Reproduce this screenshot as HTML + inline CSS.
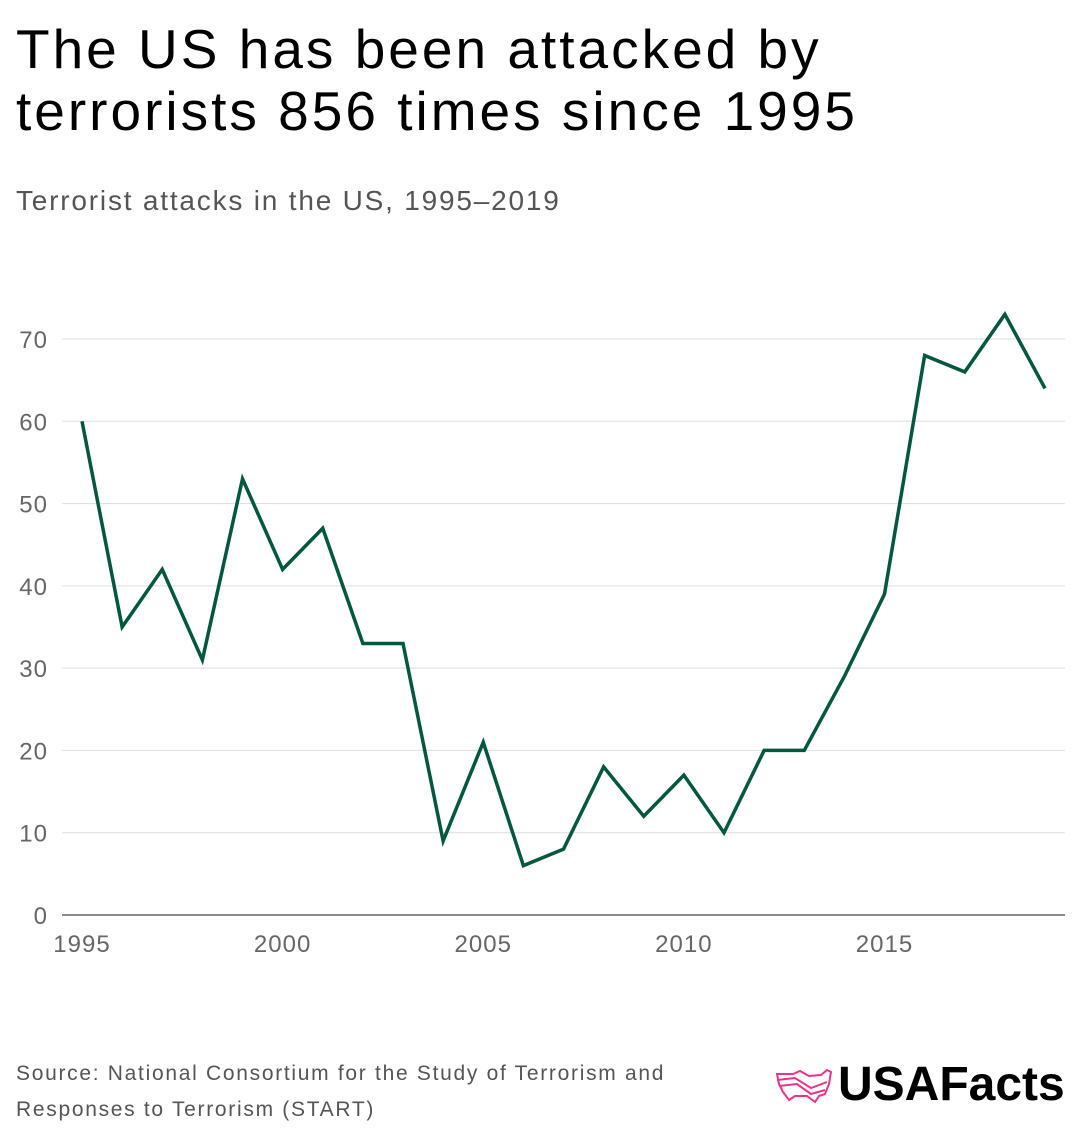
<!DOCTYPE html>
<html><head><meta charset="utf-8"><style>
body{margin:0;width:1080px;height:1142px;background:#fff;font-family:"Liberation Sans",sans-serif;position:relative;overflow:hidden}
h1{position:absolute;left:16px;top:18px;margin:0;font-size:55px;line-height:62px;font-weight:normal;color:#000;letter-spacing:3px;white-space:nowrap}
.sub{position:absolute;left:16px;top:185px;font-size:28px;color:#555;letter-spacing:1.8px;white-space:nowrap}
.src{position:absolute;left:16px;top:1056px;font-size:21px;line-height:36px;color:#555;letter-spacing:1.7px;white-space:nowrap}
svg{position:absolute;left:0;top:0}
</style></head><body>
<h1>The US has been attacked by<br>terrorists 856 times since 1995</h1>
<div class="sub">Terrorist attacks in the US, 1995–2019</div>
<svg id="chart" width="1080" height="1142"></svg>
<div class="src">Source: National Consortium for the Study of Terrorism and<br>Responses to Terrorism (START)</div>
<div style="position:absolute;left:775px;top:1066px;">
<svg width="60" height="40" viewBox="0 0 60 40"><path d="M2 8 L18 8 L25 5 L34 10 L46 9 L52 4 L56 6 L54 18 L50 28 L44 30 L40 36 L32 30 L20 30 L14 34 L8 26 L4 18 Z M2 14 L20 12 L36 22 L52 16 M4 20 L22 18 L36 28 L50 24" fill="none" stroke="#e8348a" stroke-width="2"/></svg>
<span style="position:absolute;left:63px;top:-9px;font-size:48px;font-weight:bold;letter-spacing:0px;color:#000;white-space:nowrap">USAFacts</span>
</div>
<script>
const years=[1995,1996,1997,1998,1999,2000,2001,2002,2003,2004,2005,2006,2007,2008,2009,2010,2011,2012,2013,2014,2015,2016,2017,2018,2019];
const attacks=[60,35,42,31,53,42,47,33,33,9,21,6,8,18,12,17,10,20,20,29,39,68,66,73,64];
const yTicks=[0,10,20,30,40,50,60,70];
const xTicks=[1995,2000,2005,2010,2015];
const NS="http://www.w3.org/2000/svg";
const svg=document.getElementById('chart');
const x=v=>82+(v-1995)*(1045-82)/24;
const y=v=>915-v*(915-339)/70;
function mk(t,a){const e=document.createElementNS(NS,t);for(const k in a)e.setAttribute(k,a[k]);svg.appendChild(e);return e;}
yTicks.forEach(t=>{
 const l=mk('line',{x1:62,x2:1065,y1:y(t),y2:y(t),stroke:t===0?'#888':'#ddd','stroke-width':t===0?2:1});
 
 
 const tx=mk('text',{x:48,y:y(t)+9,'text-anchor':'end','font-size':24,'letter-spacing':1,fill:'#666','font-family':'Liberation Sans, sans-serif'});
 tx.textContent=t;
 
 
});
xTicks.forEach(t=>{
 const tx=mk('text',{x:x(t),y:952,'text-anchor':'middle','font-size':24,'letter-spacing':1,fill:'#666','font-family':'Liberation Sans, sans-serif'});
 tx.textContent=t;
 
 
});
const p=mk('polyline',{points:years.map((yr,i)=>x(yr)+','+y(attacks[i])).join(' '),fill:'none',stroke:'#02573f','stroke-width':3.5,'stroke-linejoin':'miter'});


</script>
</body></html>
